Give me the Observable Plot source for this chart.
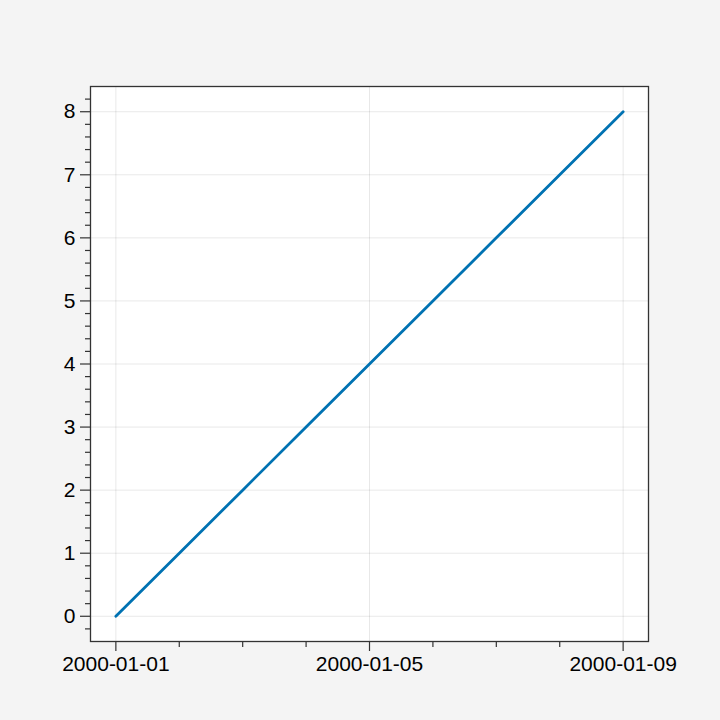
<!DOCTYPE html>
<html>
<head>
<meta charset="utf-8">
<script src="https://cdn.jsdelivr.net/npm/d3@7"></script>
<script src="https://cdn.jsdelivr.net/npm/@observablehq/plot@0.6"></script>
<style>
  html, body { margin: 0; padding: 0; background: #f4f4f4; }
  #chart { width: 720px; height: 720px; }
</style>
</head>
<body>
<div id="chart"></div>
<script>
const dates = ["2000-01-01","2000-01-02","2000-01-03","2000-01-04","2000-01-05","2000-01-06","2000-01-07","2000-01-08","2000-01-09"];
const values = [0, 1, 2, 3, 4, 5, 6, 7, 8];
const xMajorTicks = ["2000-01-01","2000-01-05","2000-01-09"];
const xMinorTicks = ["2000-01-02","2000-01-03","2000-01-04","2000-01-06","2000-01-07","2000-01-08"];
const yMajorTicks = [0, 1, 2, 3, 4, 5, 6, 7, 8];
const yMinorTicks = [-0.2,0.2,0.4,0.6,0.8,1.2,1.4,1.6,1.8,2.2,2.4,2.6,2.8,3.2,3.4,3.6,3.8,4.2,4.4,4.6,4.8,5.2,5.4,5.6,5.8,6.2,6.4,6.6,6.8,7.2,7.4,7.6,7.8,8.2];

const parse = d3.utcParse("%Y-%m-%d");
const data = dates.map((d, i) => ({date: parse(d), value: values[i]}));
const day = 864e5;
const x0 = parse(dates[0]), x1 = parse(dates[dates.length - 1]);

const ink = "#333";
const chart = Plot.plot({
  width: 720,
  height: 720,
  marginLeft: 90,
  marginRight: 72,
  marginTop: 86,
  marginBottom: 79,
  style: {background: "#f4f4f4", fontFamily: "'Liberation Sans', Arial, sans-serif", fontSize: "21px", color: "#000"},
  x: {type: "utc", domain: [new Date(+x0 - 0.4 * day), new Date(+x1 + 0.4 * day)], label: null},
  y: {domain: [-0.4, 8.4], label: null},
  marks: [
    Plot.frame({fill: "white", stroke: null}),
    Plot.gridX(xMajorTicks.map(parse), {stroke: "#000", strokeOpacity: 0.09, strokeWidth: 1}),
    Plot.gridY(yMajorTicks, {stroke: "#000", strokeOpacity: 0.09, strokeWidth: 1}),
    Plot.axisX(xMinorTicks.map(parse), {tickSize: 6, tickFormat: () => "", stroke: ink, strokeWidth: 1.2}),
    Plot.axisX(xMajorTicks.map(parse), {tickSize: 10, tickPadding: 5, tickFormat: d3.utcFormat("%Y-%m-%d"), stroke: ink, strokeWidth: 1.2, fill: "#000", fontSize: 21}),
    Plot.axisY(yMinorTicks, {tickSize: 5, tickFormat: () => "", stroke: ink, strokeWidth: 1.2}),
    Plot.axisY(yMajorTicks, {tickSize: 10, tickPadding: 5, tickFormat: d => String(d), stroke: ink, strokeWidth: 1.2, fill: "#000", fontSize: 21}),
    Plot.line(data, {x: "date", y: "value", stroke: "#0072B2", strokeWidth: 2.8}),
    Plot.frame({stroke: ink, strokeWidth: 1.3})
  ]
});
document.getElementById("chart").appendChild(chart);
</script>
</body>
</html>
